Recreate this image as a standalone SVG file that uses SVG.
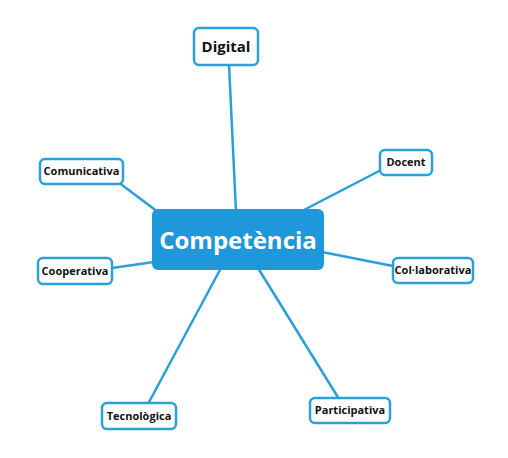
<svg xmlns="http://www.w3.org/2000/svg" width="508" height="458" viewBox="0 0 508 458">
<style>
.n rect{fill:#fff;stroke:#2a9fd8;stroke-width:2.5}
.n text{font-family:"Open Sans","DejaVu Sans",sans-serif;font-weight:bold;fill:#111;text-anchor:middle;font-size:11px}
.c line{stroke:#2a9fd8;stroke-width:2.5}
</style>
<rect width="508" height="458" fill="#fff"/>
<g class="c" id="connectors">
<line x1="229" y1="64" x2="236" y2="212"/>
<line x1="118" y1="182" x2="158" y2="212"/>
<line x1="381" y1="170" x2="300" y2="212"/>
<line x1="393" y1="266" x2="322" y2="252"/>
<line x1="112" y1="268" x2="154" y2="262"/>
<line x1="148" y1="404" x2="221" y2="268"/>
<line x1="339" y1="399" x2="258" y2="268"/>
</g>
<g id="center">
<rect x="152" y="209" width="172" height="61" rx="6" fill="#1f97db"/>
<text x="238" y="249" font-family="'Open Sans','DejaVu Sans',sans-serif" font-weight="bold" font-size="24" fill="#fff" text-anchor="middle">Competència</text>
</g>
<g class="n" id="digital"><rect x="194" y="28" width="64" height="37" rx="5"/><text x="226" y="52" style="font-size:15px">Digital</text></g>
<g class="n" id="comunicativa"><rect x="40" y="159" width="83" height="25" rx="5"/><text x="81.5" y="175">Comunicativa</text></g>
<g class="n" id="docent"><rect x="380" y="150" width="52" height="25" rx="5"/><text x="406" y="166">Docent</text></g>
<g class="n" id="collaborativa"><rect x="393" y="258" width="80" height="25" rx="5"/><text x="433" y="274">Col·laborativa</text></g>
<g class="n" id="cooperativa"><rect x="38" y="258" width="74" height="26" rx="5"/><text x="75" y="275">Cooperativa</text></g>
<g class="n" id="tecnologica"><rect x="102" y="403" width="74" height="26" rx="5"/><text x="139" y="420">Tecnològica</text></g>
<g class="n" id="participativa"><rect x="310" y="398" width="80" height="25" rx="5"/><text x="350" y="414">Participativa</text></g>
</svg>
